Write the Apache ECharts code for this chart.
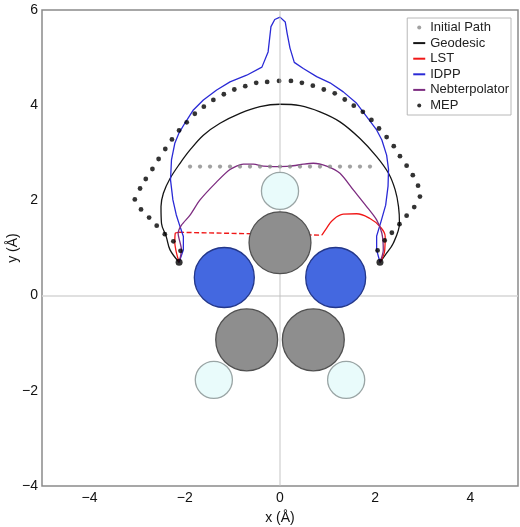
<!DOCTYPE html>
<html>
<head>
<meta charset="utf-8">
<script src="https://cdn.jsdelivr.net/npm/echarts@6/dist/echarts.min.js"></script>
<style>
html,body{margin:0;padding:0;background:#fff;}
#chart{width:520px;height:527px;}
</style>
</head>
<body>
<div id="chart"></div>
<script>
// ---- tick labels ----
const xTicks = [-4, -2, 0, 2, 4];
const yTicks = [-4, -2, 0, 2, 4, 6];

// ---- atoms: x, y, radius (Å), kind (0 = H light, 1 = C gray, 2 = N blue) ----
const atomX = [0, 0, -1.17, 1.17, -0.70, 0.70, -1.39, 1.39];
const atomY = [2.20, 1.11, 0.38, 0.38, -0.93, -0.93, -1.77, -1.77];
const atomR = [0.39, 0.65, 0.63, 0.63, 0.65, 0.65, 0.39, 0.39];
const atomKind = [0, 1, 2, 2, 1, 1, 0, 0];

// ---- Initial path (gray dots) ----
const initialX = [-1.89, -1.68, -1.47, -1.26, -1.05, -0.84, -0.63, -0.42, -0.21, 0,
                  0.21, 0.42, 0.63, 0.84, 1.05, 1.26, 1.47, 1.68, 1.89];
const initialY = [2.71, 2.71, 2.71, 2.71, 2.71, 2.71, 2.71, 2.71, 2.71, 2.71,
                  2.71, 2.71, 2.71, 2.71, 2.71, 2.71, 2.71, 2.71, 2.71];

// ---- Geodesic ----
const geodesic = [
  [-2.12,0.70],[-2.31,0.96],[-2.39,1.24],[-2.49,1.52],[-2.50,1.87],[-2.45,2.15],
  [-2.31,2.46],[-2.10,2.78],[-1.89,3.06],[-1.61,3.37],[-1.26,3.62],[-0.84,3.83],
  [-0.42,3.97],[0,4.02],[0.42,3.99],[0.84,3.86],[1.26,3.65],[1.68,3.30],
  [2.03,2.92],[2.28,2.57],[2.42,2.22],[2.49,1.87],[2.51,1.52],[2.38,1.10],
  [2.21,0.85],[2.10,0.70]
];

// ---- LST (solid left, dashed middle, solid right) ----
const lstLeft = [[-2.12,0.70],[-2.18,0.92],[-2.21,1.12],[-2.20,1.31],[-2.12,1.33]];
const lstDashed = [[-2.12,1.33],[0.88,1.27]];
const lstRight = [
  [0.88,1.27],[0.98,1.42],[1.10,1.58],[1.33,1.71],[1.61,1.72],[1.89,1.62],
  [2.10,1.45],[2.21,1.24],[2.20,0.95],[2.10,0.70]
];

// ---- IDPP ----
const idpp = [
  [-2.12,0.70],[-2.03,0.96],[-2.03,1.24],[-2.10,1.45],[-2.18,1.70],[-2.25,2.01],
  [-2.30,2.43],[-2.28,2.85],[-2.21,3.20],[-2.12,3.42],[-2.00,3.62],[-1.82,3.90],
  [-1.61,4.11],[-1.33,4.32],[-1.05,4.49],[-0.70,4.63],[-0.38,4.80],[-0.25,5.12],
  [-0.19,5.65],[-0.11,5.80],[0,5.85],[0.11,5.75],[0.15,5.51],[0.21,5.20],
  [0.30,4.90],[0.49,4.77],[0.77,4.60],[1.05,4.47],[1.33,4.28],[1.61,4.04],
  [1.82,3.76],[2.03,3.48],[2.14,3.27],[2.24,2.95],[2.28,2.65],[2.27,2.30],
  [2.22,1.90],[2.12,1.55],[2.03,1.25],[2.03,0.96],[2.10,0.70]
];

// ---- Nebterpolator ----
const nebterpolator = [
  [-2.12,0.70],[-2.07,0.96],[-2.14,1.31],[-2.07,1.48],[-1.89,1.69],[-1.68,2.01],
  [-1.33,2.39],[-1.05,2.65],[-0.77,2.76],[-0.56,2.76],[-0.35,2.72],[-0.14,2.71],
  [0.21,2.72],[0.49,2.76],[0.70,2.78],[0.98,2.72],[1.26,2.57],[1.54,2.22],
  [1.82,1.87],[2.03,1.59],[2.14,1.31],[2.17,0.96],[2.10,0.70]
];

// ---- MEP (black dots) ----
const mepX = [-2.12,-2.09,-2.24,-2.42,-2.59,-2.75,-2.92,-3.05,-2.94,-2.82,-2.68,-2.55,
  -2.41,-2.27,-2.12,-1.96,-1.79,-1.60,-1.40,-1.18,-0.96,-0.73,-0.50,-0.27,-0.02,
  0.23,0.46,0.69,0.92,1.15,1.36,1.55,1.74,1.92,2.08,2.24,2.39,2.52,2.66,2.79,
  2.90,2.94,2.82,2.66,2.51,2.35,2.20,2.05,2.10];
const mepY = [0.70,0.94,1.14,1.29,1.47,1.64,1.81,2.02,2.25,2.45,2.66,2.87,
  3.08,3.28,3.47,3.64,3.82,3.97,4.11,4.23,4.33,4.40,4.47,4.49,4.51,
  4.51,4.47,4.41,4.33,4.25,4.12,3.99,3.86,3.69,3.51,3.33,3.14,2.93,2.73,2.53,
  2.31,2.08,1.86,1.68,1.50,1.32,1.16,0.95,0.70];

const FONT = "'Liberation Sans', Arial, sans-serif";
const zip = (xs, ys) => xs.map((x, i) => [x, ys[i]]);
const minus = v => String(v).replace('-', '\u2212');

const atomStyles = [
  { fill: '#e9fbfb', stroke: '#9aa5a5' },
  { fill: '#8e8e8e', stroke: '#505050' },
  { fill: '#4468e0', stroke: '#23378a' }
];

const lineBase = (name, data, color, extra) => Object.assign({
  name, type: 'line', data, symbol: 'none', z: 3,
  lineStyle: { color, width: 1.3 }, itemStyle: { color },
  silent: true, animation: false
}, extra || {});

const hideDot = { opacity: 0 };

const option = {
  animation: false,
  backgroundColor: '#fff',
  textStyle: { fontFamily: FONT },
  grid: { left: 42, right: 2, top: 10, bottom: 41, show: true,
          outerBoundsMode: 'none', containLabel: false,
          borderColor: '#8a8a8a', borderWidth: 1.5, backgroundColor: 'transparent' },
  xAxis: {
    type: 'value', min: -5, max: 5,
    name: 'x (\u00c5)', nameLocation: 'middle', nameGap: 25, nameMoveOverlap: false,
    nameTextStyle: { fontSize: 14, color: '#111', fontFamily: FONT },
    axisLine: { show: false }, axisTick: { show: false }, splitLine: { show: false },
    axisLabel: { customValues: xTicks, fontSize: 14, color: '#111', margin: 5,
                 fontFamily: FONT, formatter: minus }
  },
  yAxis: {
    type: 'value', min: -4, max: 6, interval: 2,
    name: 'y (\u00c5)', nameLocation: 'middle', nameGap: 22, nameMoveOverlap: false,
    nameTextStyle: { fontSize: 14, color: '#111', fontFamily: FONT },
    axisLine: { show: false }, axisTick: { show: false }, splitLine: { show: false },
    axisLabel: { customValues: yTicks, fontSize: 14, color: '#111', margin: 4,
                 fontFamily: FONT, formatter: minus }
  },
  legend: {
    right: 9, top: 18, orient: 'vertical', align: 'left',
    backgroundColor: '#fff', borderColor: '#b8b8b8', borderWidth: 1, borderRadius: 0,
    padding: [3, 2, 3, 5], itemGap: 2.6, itemWidth: 12, itemHeight: 4,
    textStyle: { fontSize: 13, color: '#222', fontFamily: FONT },
    data: [
      { name: 'Initial Path', icon: 'circle' },
      { name: 'Geodesic', itemStyle: hideDot },
      { name: 'LST', itemStyle: hideDot },
      { name: 'IDPP', itemStyle: hideDot },
      { name: 'Nebterpolator', itemStyle: hideDot },
      { name: 'MEP', icon: 'circle' }
    ],
    selectedMode: false
  },
  series: [
    { // horizontal zero line (under atoms)
      type: 'line', data: [], z: 1, silent: true,
      markLine: { silent: true, symbol: 'none', label: { show: false },
        lineStyle: { color: '#d6d6d6', width: 1.5, type: 'solid' },
        data: [{ yAxis: 0 }] }
    },
    {
      name: 'Initial Path', type: 'scatter', data: zip(initialX, initialY),
      symbol: 'circle', symbolSize: 4.2, z: 3, silent: true,
      itemStyle: { color: '#8a8a8a' }
    },
    lineBase('Geodesic', geodesic, '#151515', { smooth: 0.35 }),
    lineBase('LST', lstLeft, '#f01818', { smooth: 0.3 }),
    lineBase('LST', lstDashed, '#f01818', { lineStyle: { color: '#f01818', width: 1.4, type: [5, 2.5] } }),
    lineBase('LST', lstRight, '#f01818', { smooth: 0.4 }),
    lineBase('IDPP', idpp, '#2a2ad6'),
    lineBase('Nebterpolator', nebterpolator, '#7d2c80', { smooth: 0.25 }),
    {
      name: 'MEP', type: 'scatter', data: zip(mepX, mepY), symbol: 'circle',
      symbolSize: (v, p) => (p.dataIndex === 0 || p.dataIndex === mepX.length - 1) ? 7 : 4.8,
      z: 4, silent: true, itemStyle: { color: '#000' }
    },
    {
      type: 'custom', z: 5, silent: true,
      data: atomX.map((x, i) => [x, atomY[i], atomR[i], atomKind[i]]),
      encode: { x: 0, y: 1 },
      renderItem: (params, api) => {
        const c = api.coord([api.value(0), api.value(1)]);
        const s = api.size([api.value(2), api.value(2)]);
        const st = atomStyles[api.value(3)];
        return { type: 'circle', shape: { cx: c[0], cy: c[1], r: s[0] },
                 style: { fill: st.fill, stroke: st.stroke, lineWidth: 1.3 } };
      }
    },
    { // vertical zero line (over atoms, semi-transparent)
      type: 'line', data: [], z: 6, silent: true,
      markLine: { silent: true, symbol: 'none', label: { show: false },
        lineStyle: { color: 'rgba(190,190,190,0.6)', width: 1.5, type: 'solid' },
        data: [{ xAxis: 0 }] }
    }
  ]
};

const chart = echarts.init(document.getElementById('chart'), null, { renderer: 'canvas' });
chart.setOption(option);
</script>
</body>
</html>
